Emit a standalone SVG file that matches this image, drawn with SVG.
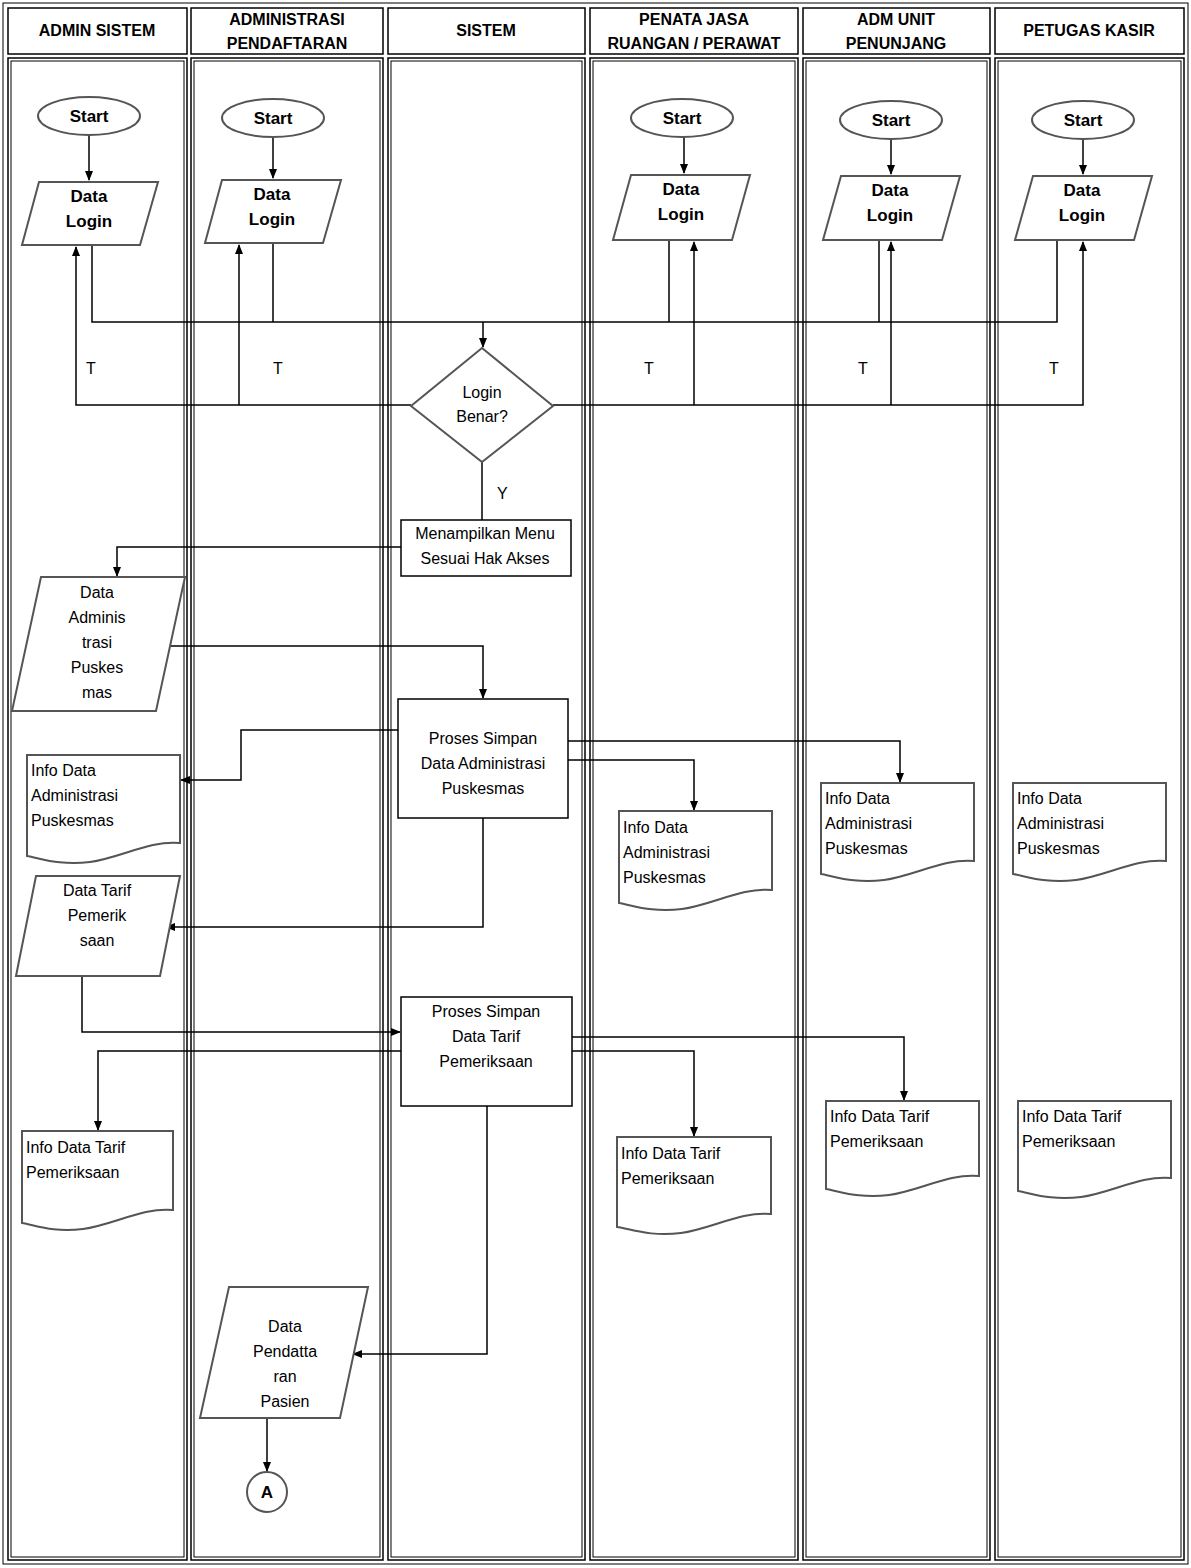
<svg xmlns="http://www.w3.org/2000/svg" width="1191" height="1568" viewBox="0 0 1191 1568">
<defs>
<marker id="ar" markerWidth="10" markerHeight="10" refX="9" refY="5" orient="auto" markerUnits="userSpaceOnUse"><path d="M0,1 L10,5 L0,9 Z" fill="#000"/></marker>
</defs>
<style>
.lane{fill:#fff;stroke:#000;stroke-width:1.5}
.in{fill:none;stroke:#000;stroke-width:1}
.hd{font-family:"Liberation Sans",Arial,sans-serif;font-weight:bold;font-size:16px;text-anchor:middle}
.t{font-family:"Liberation Sans",Arial,sans-serif;font-size:16px;fill:#000}
.c{text-anchor:middle}
.b{font-weight:bold;font-size:17px}
.sh{fill:#fff;stroke:#555;stroke-width:2}
.bx{fill:#fff;stroke:#000;stroke-width:1.5}
.ln{fill:none;stroke:#000;stroke-width:1.5}
</style>
<rect x="0" y="0" width="1191" height="1568" fill="#fff"/>
<g id="lanes">
<rect x="3" y="3" width="1185" height="1561" class="in"/>
<rect class="lane" x="8" y="8" width="179" height="46"/><rect class="lane" x="8" y="58" width="179" height="1502"/>
<rect class="lane" x="191" y="8" width="192" height="46"/><rect class="lane" x="191" y="58" width="192" height="1502"/>
<rect class="lane" x="388" y="8" width="197" height="46"/><rect class="lane" x="388" y="58" width="197" height="1502"/>
<rect class="lane" x="590" y="8" width="208" height="46"/><rect class="lane" x="590" y="58" width="208" height="1502"/>
<rect class="lane" x="803" y="8" width="187" height="46"/><rect class="lane" x="803" y="58" width="187" height="1502"/>
<rect class="lane" x="995" y="8" width="189" height="46"/><rect class="lane" x="995" y="58" width="189" height="1502"/>
<rect class="in" x="11" y="61" width="173" height="1496"/><rect class="in" x="194" y="61" width="186" height="1496"/>
<rect class="in" x="391" y="61" width="191" height="1496"/><rect class="in" x="593" y="61" width="202" height="1496"/>
<rect class="in" x="806" y="61" width="181" height="1496"/><rect class="in" x="998" y="61" width="183" height="1496"/>
<text class="hd" x="97" y="36">ADMIN SISTEM</text>
<text class="hd" x="287" y="25">ADMINISTRASI</text><text class="hd" x="287" y="49">PENDAFTARAN</text>
<text class="hd" x="486" y="36">SISTEM</text>
<text class="hd" x="694" y="25">PENATA JASA</text><text class="hd" x="694" y="49">RUANGAN / PERAWAT</text>
<text class="hd" x="896" y="25">ADM UNIT</text><text class="hd" x="896" y="49">PENUNJANG</text>
<text class="hd" x="1089" y="36">PETUGAS KASIR</text>
</g>
<g id="connectors">
<path class="ln" d="M89,135 V180" marker-end="url(#ar)"/>
<path class="ln" d="M273,137 V178" marker-end="url(#ar)"/>
<path class="ln" d="M684,137 V173" marker-end="url(#ar)"/>
<path class="ln" d="M891,139 V174" marker-end="url(#ar)"/>
<path class="ln" d="M1083,139 V174" marker-end="url(#ar)"/>
<path class="ln" d="M92,245 V322 H1057 V240 M273,243 V322 M669,240 V322 M879,240 V322"/>
<path class="ln" d="M483,322 V347" marker-end="url(#ar)"/>
<path class="ln" d="M411,405 H76 V247" marker-end="url(#ar)"/>
<path class="ln" d="M239,405 V245" marker-end="url(#ar)"/>
<path class="ln" d="M553,405 H1083 V242" marker-end="url(#ar)"/>
<path class="ln" d="M694,405 V242" marker-end="url(#ar)"/>
<path class="ln" d="M891,405 V242" marker-end="url(#ar)"/>
<path class="ln" d="M482,462 V520"/>
<path class="ln" d="M401,547 H117 V576" marker-end="url(#ar)"/>
<path class="ln" d="M168,646 H483 V698" marker-end="url(#ar)"/>
<path class="ln" d="M398,730 H241 V780 H181" marker-end="url(#ar)"/>
<path class="ln" d="M568,741 H900 V782" marker-end="url(#ar)"/>
<path class="ln" d="M568,760 H694 V810" marker-end="url(#ar)"/>
<path class="ln" d="M483,818 V927 H166" marker-end="url(#ar)"/>
<path class="ln" d="M82,976 V1032 H400" marker-end="url(#ar)"/>
<path class="ln" d="M401,1051 H98 V1130" marker-end="url(#ar)"/>
<path class="ln" d="M572,1037 H904 V1100" marker-end="url(#ar)"/>
<path class="ln" d="M572,1051 H694 V1136" marker-end="url(#ar)"/>
<path class="ln" d="M487,1106 V1354 H353" marker-end="url(#ar)"/>
<path class="ln" d="M267,1418 V1471" marker-end="url(#ar)"/>
<text class="t" x="86" y="374">T</text><text class="t" x="273" y="374">T</text><text class="t" x="644" y="374">T</text><text class="t" x="858" y="374">T</text><text class="t" x="1049" y="374">T</text>
<text class="t" x="497" y="499">Y</text>
</g>
<g id="starts">
<ellipse class="sh" cx="89" cy="116" rx="51" ry="19"/><text class="t c b" x="89" y="122">Start</text>
<ellipse class="sh" cx="273" cy="118" rx="51" ry="19"/><text class="t c b" x="273" y="124">Start</text>
<ellipse class="sh" cx="682" cy="118" rx="51" ry="19"/><text class="t c b" x="682" y="124">Start</text>
<ellipse class="sh" cx="891" cy="120" rx="51" ry="19"/><text class="t c b" x="891" y="126">Start</text>
<ellipse class="sh" cx="1083" cy="120" rx="51" ry="19"/><text class="t c b" x="1083" y="126">Start</text>
</g>
<g id="logins">
<polygon class="sh" points="39,182 158,182 140,245 22,245"/><text class="t c b" x="89" y="202">Data</text><text class="t c b" x="89" y="227">Login</text>
<polygon class="sh" points="222,180 341,180 323,243 205,243"/><text class="t c b" x="272" y="200">Data</text><text class="t c b" x="272" y="225">Login</text>
<polygon class="sh" points="631,175 750,175 732,240 613,240"/><text class="t c b" x="681" y="195">Data</text><text class="t c b" x="681" y="220">Login</text>
<polygon class="sh" points="841,176 960,176 942,240 823,240"/><text class="t c b" x="890" y="196">Data</text><text class="t c b" x="890" y="221">Login</text>
<polygon class="sh" points="1033,176 1152,176 1134,240 1015,240"/><text class="t c b" x="1082" y="196">Data</text><text class="t c b" x="1082" y="221">Login</text>
</g>
<g id="decision">
<polygon class="sh" points="482,348 553,406 482,462 411,406"/><text class="t c" x="482" y="398">Login</text><text class="t c" x="482" y="422">Benar?</text>
</g>
<g id="menu">
<rect class="bx" x="401" y="520" width="170" height="56"/><text class="t c" x="485" y="539">Menampilkan Menu</text><text class="t c" x="485" y="564">Sesuai Hak Akses</text>
</g>
<g id="dataadmin">
<polygon class="sh" points="41,577 185,577 156,711 12,711"/>
<text class="t c" x="97" y="598">Data</text><text class="t c" x="97" y="623">Adminis</text><text class="t c" x="97" y="648">trasi</text><text class="t c" x="97" y="673">Puskes</text><text class="t c" x="97" y="698">mas</text>
</g>
<g id="prosesadmin">
<rect class="bx" x="398" y="699" width="170" height="119"/><text class="t c" x="483" y="744">Proses Simpan</text><text class="t c" x="483" y="769">Data Administrasi</text><text class="t c" x="483" y="794">Puskesmas</text>
</g>
<g id="docs">
<path class="sh" d="M27,755 H180 V843 C150,840 120,858 90,862 C60,866 40,858 27,856 Z"/><text class="t" x="31" y="776">Info Data</text><text class="t" x="31" y="801">Administrasi</text><text class="t" x="31" y="826">Puskesmas</text>
<path class="sh" d="M619,811 H772 V890 C742,887 712,905 682,909 C652,913 632,905 619,903 Z"/><text class="t" x="623" y="833">Info Data</text><text class="t" x="623" y="858">Administrasi</text><text class="t" x="623" y="883">Puskesmas</text>
<path class="sh" d="M821,783 H974 V861 C944,858 914,876 884,880 C854,884 834,876 821,874 Z"/><text class="t" x="825" y="804">Info Data</text><text class="t" x="825" y="829">Administrasi</text><text class="t" x="825" y="854">Puskesmas</text>
<path class="sh" d="M1013,783 H1166 V861 C1136,858 1106,876 1076,880 C1046,884 1026,876 1013,874 Z"/><text class="t" x="1017" y="804">Info Data</text><text class="t" x="1017" y="829">Administrasi</text><text class="t" x="1017" y="854">Puskesmas</text>
<path class="sh" d="M22,1131 H173 V1210 C143,1207 113,1225 83,1229 C53,1233 35,1225 22,1223 Z"/><text class="t" x="26" y="1153">Info Data Tarif</text><text class="t" x="26" y="1178">Pemeriksaan</text>
<path class="sh" d="M617,1137 H771 V1214 C741,1211 711,1229 681,1233 C651,1237 631,1229 617,1227 Z"/><text class="t" x="621" y="1159">Info Data Tarif</text><text class="t" x="621" y="1184">Pemeriksaan</text>
<path class="sh" d="M826,1101 H979 V1176 C949,1173 919,1191 889,1195 C859,1199 839,1191 826,1189 Z"/><text class="t" x="830" y="1122">Info Data Tarif</text><text class="t" x="830" y="1147">Pemeriksaan</text>
<path class="sh" d="M1018,1101 H1171 V1178 C1141,1175 1111,1193 1081,1197 C1051,1201 1031,1193 1018,1191 Z"/><text class="t" x="1022" y="1122">Info Data Tarif</text><text class="t" x="1022" y="1147">Pemeriksaan</text>
</g>
<g id="datatarif">
<polygon class="sh" points="36,876 180,876 160,976 16,976"/><text class="t c" x="97" y="896">Data Tarif</text><text class="t c" x="97" y="921">Pemerik</text><text class="t c" x="97" y="946">saan</text>
</g>
<g id="prosestarif">
<rect class="bx" x="401" y="997" width="171" height="109"/><text class="t c" x="486" y="1017">Proses Simpan</text><text class="t c" x="486" y="1042">Data Tarif</text><text class="t c" x="486" y="1067">Pemeriksaan</text>
</g>
<g id="datapendaftaran">
<polygon class="sh" points="229,1287 368,1287 340,1418 200,1418"/><text class="t c" x="285" y="1332">Data</text><text class="t c" x="285" y="1357">Pendatta</text><text class="t c" x="285" y="1382">ran</text><text class="t c" x="285" y="1407">Pasien</text>
</g>
<g id="connectorA">
<circle class="sh" cx="267" cy="1492" r="20"/><text class="t c b" x="267" y="1498">A</text>
</g>
</svg>
